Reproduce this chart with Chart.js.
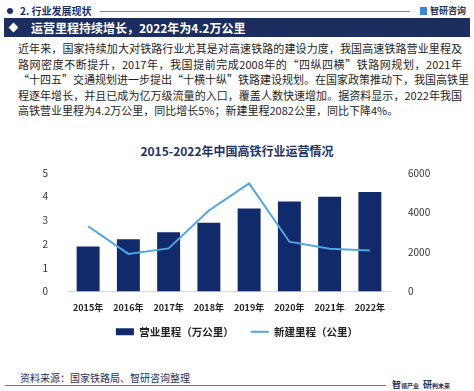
<!DOCTYPE html>
<html>
<head>
<meta charset="utf-8">
<script src="https://cdn.jsdelivr.net/npm/chart.js@4/dist/chart.umd.min.js"></script>
<style>
  html, body { margin: 0; padding: 0; background: #fff; }
  body { width: 474px; height: 391px; position: relative; overflow: hidden;
         font-family: "Noto Sans CJK SC", "Noto Sans", sans-serif; color: #1c2f63; }
  .abs { position: absolute; }
  #dot { left: 7px; top: 8px; width: 6px; height: 6px; border-radius: 50%; background: #1c2f63; }
  #sec { left: 20px; top: 3px; font-size: 10px; font-weight: bold; line-height: 16px; }
  #topline { left: 100px; top: 11px; width: 310px; height: 1px; background: #7d879f; }
  #logoIcon { left: 420px; top: 7px; width: 7px; height: 8px; background: #3b86d6; }
  #logo { left: 430px; top: 3px; font-size: 9px; font-weight: bold; line-height: 16px; color: #27315a; }
  #banner { left: 4px; top: 18px; width: 466px; height: 19px; background: #1c2e60; }
  #diamond { left: 10px; top: 24px; width: 7px; height: 7px; background: #fff; transform: rotate(45deg); }
  #bannerText { left: 31px; top: 18px; font-size: 12px; font-weight: bold; color: #fff; line-height: 19px; }
  #para { left: 18px; top: 41px; width: 444px; font-size: 11px; line-height: 15.5px; color: #1e1e1e; }
  #para div { text-align: justify; text-align-last: justify; white-space: nowrap; }
  #para div.last { text-align-last: left; }
  #ctitle { left: 0; top: 143px; width: 474px; text-align: center; font-size: 12px; font-weight: bold; line-height: 16px; color: #1f3367; }
  #wrap { left: 0; top: 140px; width: 474px; height: 207px; }
  #src { left: 20px; top: 370px; font-size: 10px; line-height: 15px; color: #1c2f63; }
  #botline { left: 5px; top: 385px; width: 381px; height: 1px; background: #6f7890; }
  #slogan { left: 392px; top: 380px; display: flex; align-items: flex-end; font-weight: bold; color: #27315a; white-space: nowrap; }
  #slogan span { display: block; line-height: 1; }
  #slogan .b { font-size: 9px; }
  #slogan .s { font-size: 6px; margin-right: 1px; }
</style>
</head>
<body>
<div class="abs" id="dot"></div>
<div class="abs" id="sec">2. 行业发展现状</div>
<div class="abs" id="topline"></div>
<div class="abs" id="logoIcon"></div>
<div class="abs" id="logo">智研咨询</div>
<div class="abs" id="banner"></div>
<div class="abs" id="diamond"></div>
<div class="abs" id="bannerText">运营里程持续增长，2022年为4.2万公里</div>
<div class="abs" id="para">
  <div>近年来，国家持续加大对铁路行业尤其是对高速铁路的建设力度，我国高速铁路营业里程及</div>
  <div>路网密度不断提升，2017年，我国提前完成2008年的“四纵四横”铁路网规划，2021年</div>
  <div>“十四五”交通规划进一步提出“十横十纵”铁路建设规划。在国家政策推动下，我国高铁里</div>
  <div>程逐年增长，并且已成为亿万级流量的入口，覆盖人数快速增加。据资料显示，2022年我国</div>
  <div class="last">高铁营业里程为4.2万公里，同比增长5%；新建里程2082公里，同比下降4%。</div>
</div>
<div class="abs" id="ctitle">2015-2022年中国高铁行业运营情况</div>
<div class="abs" id="wrap"><canvas id="chart"></canvas></div>
<div class="abs" id="src">资料来源：国家铁路局、智研咨询整理</div>
<div class="abs" id="botline"></div>
<div class="abs" id="slogan"><span class="b">智</span><span class="s">领产业</span><span class="b" style="margin-left:3px">研</span><span class="s">判未来</span></div>

<script>
// chart data
var years = ['2015年', '2016年', '2017年', '2018年', '2019年', '2020年', '2021年', '2022年'];
var mileage = [1.9, 2.2, 2.5, 2.9, 3.5, 3.8, 4.0, 4.2];        // 营业里程（万公里）
var newBuilt = [3306, 1903, 2182, 4100, 5474, 2521, 2168, 2082]; // 新建里程（公里）
var leftTicks = [0, 1, 2, 3, 4, 5];
var rightTicks = [0, 2000, 4000, 6000];

var navy = '#112a6c';
var sky = '#4ea6e2';

Chart.defaults.font.family = "'Noto Sans CJK SC', 'Noto Sans', sans-serif";
Chart.defaults.color = '#333';

var ctx = document.getElementById('chart').getContext('2d');
var chart = new Chart(ctx, {
    type: 'bar',
    data: {
        labels: years,
        datasets: [{
            type: 'bar',
            label: '营业里程（万公里）\u3000',
            data: mileage,
            backgroundColor: navy,
            yAxisID: 'y',
            order: 1,
            categoryPercentage: 1,
            barPercentage: 0.57,
            pointStyle: 'rect'
        }, {
            type: 'line',
            label: '新建里程（公里）',
            data: newBuilt,
            borderColor: sky,
            backgroundColor: sky,
            borderWidth: 2,
            tension: 0,
            pointRadius: 0,
            yAxisID: 'y1',
            order: 0,
            pointStyle: 'line'
        }]
    },
    options: {
        responsive: true,
        maintainAspectRatio: false,
        animation: false,
        layout: { padding: { top: 33, left: 0, right: 0, bottom: 0 } },
        plugins: {
            tooltip: { enabled: false },
            legend: {
                position: 'bottom',
                labels: {
                    usePointStyle: true,
                    pointStyleWidth: 18,
                    boxHeight: 7,
                    padding: 12,
                    color: '#222',
                    font: { size: 10.5, weight: 'bold' },
                    sort: function (a, b) { return a.datasetIndex - b.datasetIndex; }
                }
            }
        },
        scales: {
            x: {
                afterFit: function (s) { s.height = 23; },
                grid: { display: false, drawTicks: false },
                border: { display: true, color: '#d9d9d9' },
                ticks: { padding: 11, color: '#222', font: { size: 9, weight: 'bold' } }
            },
            y: {
                position: 'left',
                min: 0, max: 5,
                afterBuildTicks: function (s) { s.ticks = leftTicks.map(function (v) { return { value: v }; }); },
                afterFit: function (s) { s.width = 68; },
                grid: { display: false },
                border: { display: false },
                ticks: { padding: 12, color: '#333', font: { size: 10 } }
            },
            y1: {
                position: 'right',
                min: 0, max: 6000,
                afterBuildTicks: function (s) { s.ticks = rightTicks.map(function (v) { return { value: v }; }); },
                afterFit: function (s) { s.width = 84; },
                grid: { display: false },
                border: { display: false },
                ticks: { padding: 10, color: '#333', font: { size: 10 },
                         callback: function (v) { return String(v); } }
            }
        }
    }
});
</script>
</body>
</html>
